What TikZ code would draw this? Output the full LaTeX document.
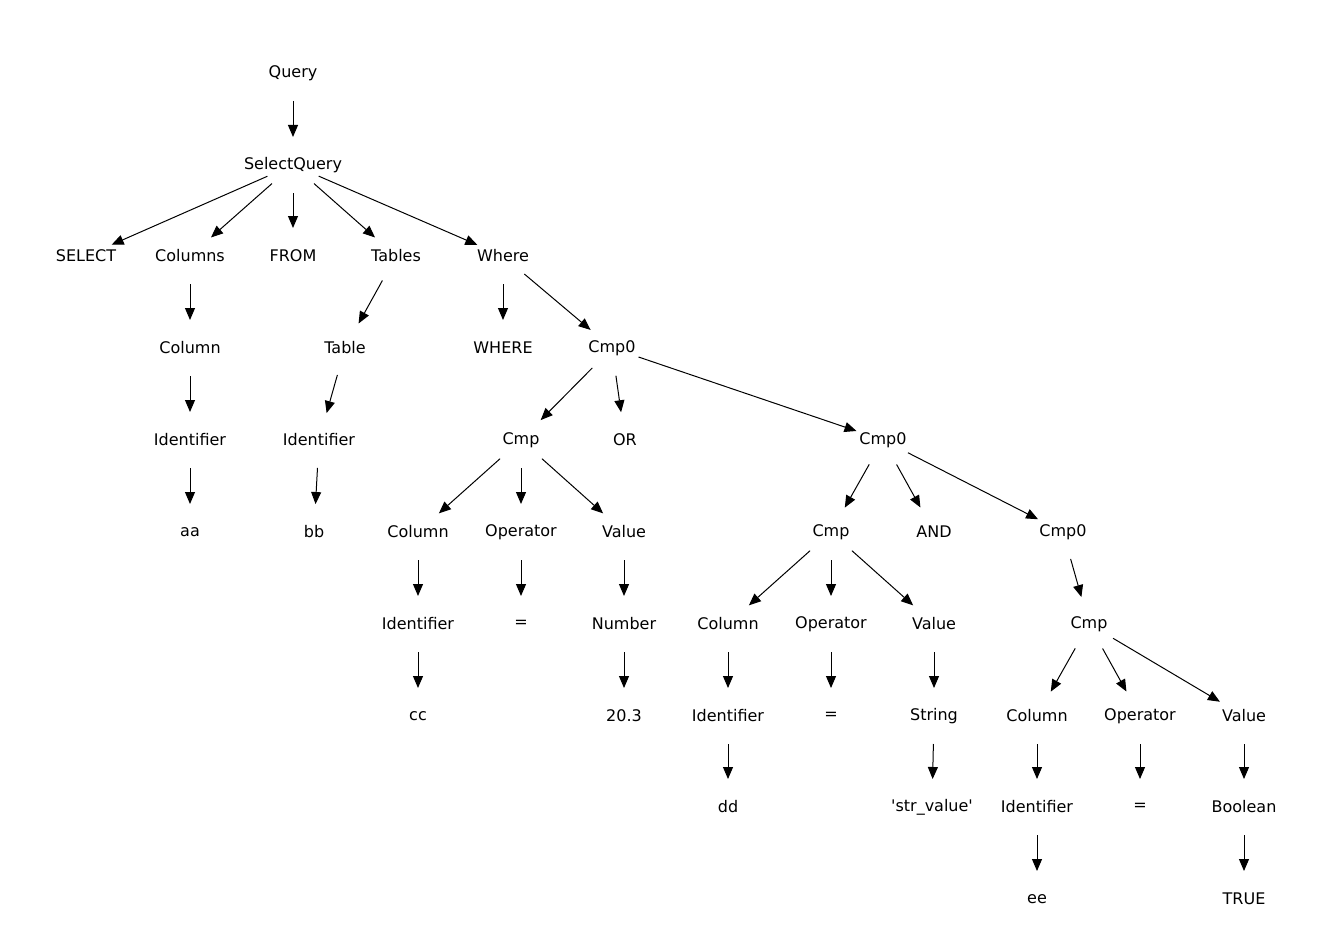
\documentclass[tikz,border=0pt]{standalone}
\usepackage{fontspec}
\setmainfont{DejaVu Sans}
\usetikzlibrary{arrows.meta}
\begin{document}
\begin{tikzpicture}[x=1pt,y=-1pt,
  lbl/.style={font=\fontsize{16}{19}\selectfont, inner sep=0},
  edge/.style={-{Triangle[length=12pt,width=10pt]}, line width=1pt, shorten <=28pt, shorten >=28pt}]
\useasboundingbox (0,0) rectangle (1340,936);
\foreach \n/\x/\y/\t in {
 q/293/73/Query, sq/293/165/SelectQuery,
 sel/86/256/SELECT, cols/190/256/Columns, from/293/256/FROM, tabs/396/256/Tables, wh/503/256/Where,
 col1/190/348/Column, tab/345/348/Table, WH/503/348/WHERE, ca/612/348/Cmp0,
 id1/190/440/Identifier, id2/319/440/Identifier, c1/521/440/Cmp, or/625/440/OR, cb/883/440/Cmp0,
 aa/190/532/aa, bb/314/532/bb, col2/418/532/Column, op1/521/532/Operator, v1/624/532/Value, c2/831/532/Cmp, and/934/532/AND, cc0/1063/532/Cmp0,
 id3/418/624/Identifier, eq1/521/624/=, num/624/624/Number, col3/728/624/Column, op2/831/624/Operator, v2/934/624/Value, c3/1089/624/Cmp,
 cc/418/716/cc, n203/624/716/20.3, id4/728/716/Identifier, eq2/831/716/=, str/934/716/String, col4/1037/716/Column, op3/1140/716/Operator, v3/1244/716/Value,
 dd/728/807/dd, sv/932/807/{\textquotesingle str\_value\textquotesingle}, id5/1037/807/Identifier, eq3/1140/807/=, bool/1244/807/Boolean,
 ee/1037/899/ee, tr/1244/899/TRUE}
 \node[lbl] (\n) at (\x,\y) {\t};
\foreach \a/\b in {q/sq, sq/sel, sq/cols, sq/from, sq/tabs, sq/wh,
 cols/col1, col1/id1, id1/aa, tabs/tab, tab/id2, id2/bb,
 wh/WH, wh/ca, ca/c1, ca/or, ca/cb,
 c1/col2, c1/op1, c1/v1, col2/id3, id3/cc, op1/eq1, v1/num, num/n203,
 cb/c2, cb/and, cb/cc0, c2/col3, c2/op2, c2/v2, col3/id4, id4/dd, op2/eq2, v2/str, str/sv,
 cc0/c3, c3/col4, c3/op3, c3/v3, col4/id5, id5/ee, op3/eq3, v3/bool, bool/tr}
 \draw[edge] (\a.center) -- (\b.center);
\end{tikzpicture}
\end{document}
